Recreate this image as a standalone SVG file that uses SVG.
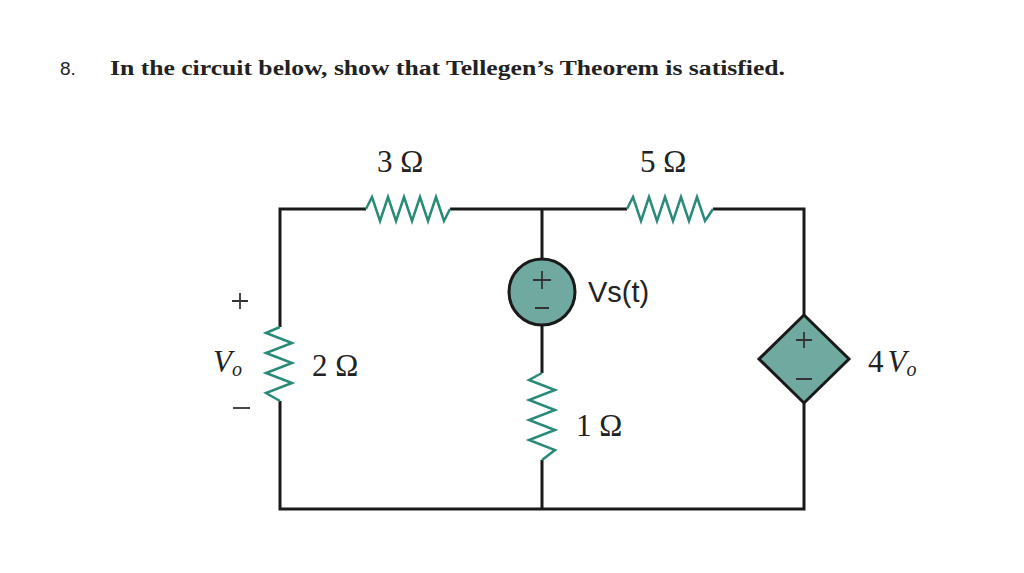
<svg xmlns="http://www.w3.org/2000/svg" width="1024" height="573" viewBox="0 0 1024 573">
<style>
.w{fill:none;stroke:#1a1a1a;stroke-width:3}
.r{fill:none;stroke:#2a8a78;stroke-width:2.5;stroke-linejoin:miter}
.src{fill:#6fa9a0;stroke:#1a1a1a;stroke-width:3}
.t{font-family:"Liberation Serif",serif;font-size:31px;fill:#222}
.s{font-family:"Liberation Sans",sans-serif;fill:#222}
.sign{stroke:#333;stroke-width:1.8;fill:none}
</style>
<rect width="1024" height="573" fill="#fff"/>
<text class="s" x="60" y="75" font-size="19">8.</text>
<text x="110" y="75" font-size="20" textLength="675" lengthAdjust="spacingAndGlyphs" style="font-family:'Liberation Serif',serif;font-weight:bold" fill="#222">In the circuit below, show that Tellegen’s Theorem is satisfied.</text>
<g id="wires" class="w">
<path d="M366 209 H280 V327 M280 401 V509 H804 V403 M804 315 V209 H713 M627 209 H450 M542 209 V259 M542 326 V373 M542 460 V509"/>
</g>
<g id="R3"><path class="r" d="M366 209 L372 197 L380 221 L388 197 L396 221 L404 197 L412 221 L420 197 L428 221 L436 197 L444 221 L450 209"/><text class="t" x="377" y="172">3 Ω</text></g>
<g id="R5"><path class="r" d="M627 209 L633 197 L641 221 L649 197 L657 221 L665 197 L673 221 L681 197 L689 221 L697 197 L705 221 L713 209"/><text class="t" x="640" y="172">5 Ω</text></g>
<g id="R2"><path class="r" d="M280 327 L266 333 L292 343 L266 353 L292 363 L266 373 L292 383 L266 393 L280 401"/><text class="t" x="312" y="376">2 Ω</text>
<path class="sign" d="M240 293 V309 M232 301 H248"/><text class="t" x="213" y="372" font-size="26" font-style="italic">V<tspan font-size="20" dy="4">o</tspan></text><line class="sign" x1="233" y1="408" x2="250" y2="408"/></g>
<g id="R1"><path class="r" d="M542 373 L529 380 L555 390 L529 400 L555 410 L529 420 L555 430 L529 440 L555 450 L542 460"/><text class="t" x="576" y="436">1 Ω</text></g>
<g id="Vs"><circle class="src" cx="542" cy="292" r="33"/><path class="sign" d="M542 271 V289 M533 280 H551 M535 308 H549"/><text class="s" x="588" y="302" font-size="29">Vs(t)</text></g>
<g id="Dep"><path class="src" d="M804 315 L849 359 L804 403 L759 359 Z"/><path class="sign" d="M804 332 V348 M796 340 H812 M796 379 H812"/><text class="t" x="868" y="372" font-size="28">4<tspan font-style="italic" dx="4">V<tspan font-size="20" dy="4">o</tspan></tspan></text></g>
</svg>
